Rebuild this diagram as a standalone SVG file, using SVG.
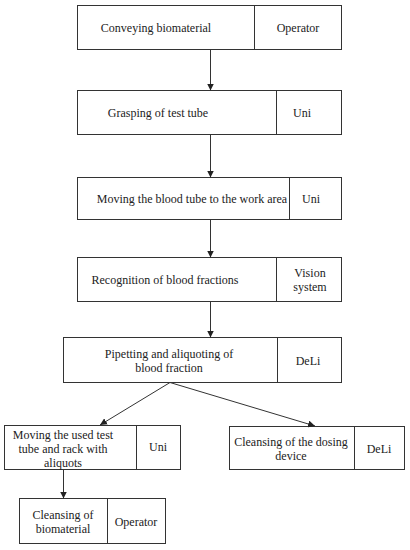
<svg xmlns="http://www.w3.org/2000/svg" width="410" height="550" viewBox="0 0 410 550">
<defs>
<marker id="ah" viewBox="0 0 10 10" refX="10" refY="5" markerWidth="7" markerHeight="7" markerUnits="userSpaceOnUse" orient="auto">
<path d="M0,0 L10,5 L0,10 Z" fill="#222"/>
</marker>
<style>
.box { fill: #fff; stroke: #333; stroke-width: 1; }
.d { fill: none; stroke: #333; stroke-width: 1; }
text { font-family: "Liberation Serif", "Times New Roman", serif; font-size: 12px; fill: #222; text-anchor: middle; dominant-baseline: central; }
.c line { stroke: #333; stroke-width: 1; marker-end: url(#ah); }
</style>
</defs>
<rect x="0" y="0" width="410" height="550" fill="#fff"/>
<g id="n1">
<rect class="box" x="77.5" y="5.5" width="264" height="44"/>
<line class="d" x1="254.5" y1="5.5" x2="254.5" y2="49.5"/>
<text x="156" y="27.5">Conveying biomaterial</text>
<text x="298" y="27.5">Operator</text>
</g>
<g id="n2">
<rect class="box" x="77.5" y="90.5" width="264" height="44"/>
<line class="d" x1="276.5" y1="90.5" x2="276.5" y2="134.5"/>
<text x="158" y="113">Grasping of test tube</text>
<text x="302" y="113">Uni</text>
</g>
<g id="n3">
<rect class="box" x="77.5" y="177.5" width="264" height="42"/>
<line class="d" x1="289.5" y1="177.5" x2="289.5" y2="219.5"/>
<text x="192" y="198.5">Moving the blood tube to the work area</text>
<text x="311" y="198.5">Uni</text>
</g>
<g id="n4">
<rect class="box" x="77.5" y="257.5" width="264" height="44"/>
<line class="d" x1="276.5" y1="257.5" x2="276.5" y2="301.5"/>
<text x="165" y="280">Recognition of blood fractions</text>
<text x="310" y="273">Vision</text>
<text x="310" y="287">system</text>
</g>
<g id="n5">
<rect class="box" x="63.5" y="337.5" width="278" height="45"/>
<line class="d" x1="277.5" y1="337.5" x2="277.5" y2="382.5"/>
<text x="169" y="354">Pipetting and aliquoting of</text>
<text x="169" y="368">blood fraction</text>
<text x="308" y="361">DeLi</text>
</g>
<g id="n6">
<rect class="box" x="4.5" y="425.5" width="176" height="44"/>
<line class="d" x1="136.5" y1="425.5" x2="136.5" y2="469.5"/>
<text x="63" y="435">Moving the used test</text>
<text x="63" y="449">tube and rack with</text>
<text x="63" y="463">aliquots</text>
<text x="158" y="447">Uni</text>
</g>
<g id="n7">
<rect class="box" x="229.5" y="426.5" width="175" height="43"/>
<line class="d" x1="354.5" y1="426.5" x2="354.5" y2="469.5"/>
<text x="291" y="442">Cleansing of the dosing</text>
<text x="291" y="456">device</text>
<text x="379" y="449">DeLi</text>
</g>
<g id="n8">
<rect class="box" x="19.5" y="498.5" width="146" height="45"/>
<line class="d" x1="107.5" y1="498.5" x2="107.5" y2="543.5"/>
<text x="63" y="515">Cleansing of</text>
<text x="63" y="528.5">biomaterial</text>
<text x="136" y="522">Operator</text>
</g>
<g class="c" id="connectors">
<line x1="210.5" y1="49.5" x2="210.5" y2="90.5"/>
<line x1="210.5" y1="134.5" x2="210.5" y2="177.5"/>
<line x1="210.5" y1="219.5" x2="210.5" y2="257.5"/>
<line x1="210.5" y1="301.5" x2="210.5" y2="337.5"/>
<line x1="170" y1="382.5" x2="100" y2="425"/>
<line x1="170" y1="382.5" x2="315" y2="426"/>
<line x1="63.5" y1="469.5" x2="63.5" y2="498.5"/>
</g>
</svg>
